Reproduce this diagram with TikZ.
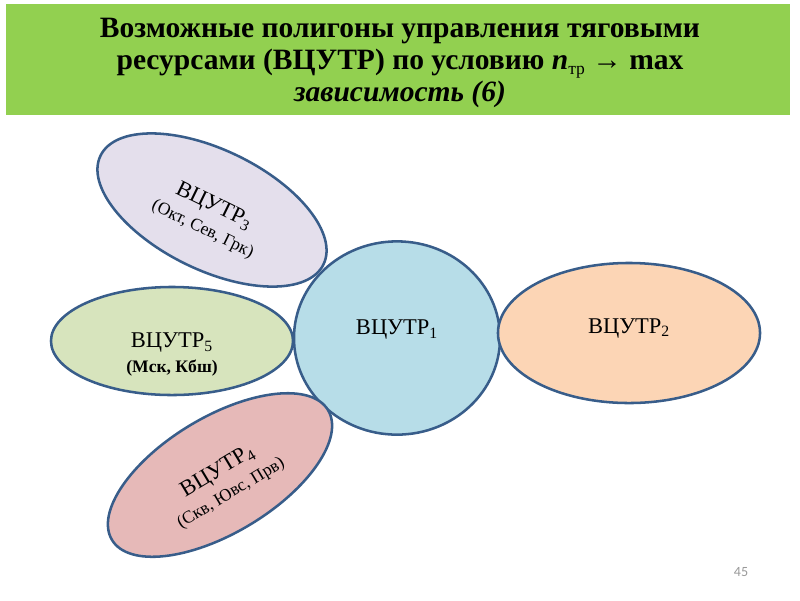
\documentclass[tikz,border=0pt]{standalone}
\usepackage{fontspec}
\setmainfont{Liberation Serif}
\newfontfamily\pagenumfont{Carlito}
\usetikzlibrary{shapes.geometric}

\definecolor{bannergreen}{HTML}{92D050}
\definecolor{edgeblue}{HTML}{385D8A}
\definecolor{fillone}{HTML}{B7DDE8}
\definecolor{filltwo}{HTML}{FCD5B5}
\definecolor{fillthree}{HTML}{E4DFEC}
\definecolor{fillfour}{HTML}{E6B9B8}
\definecolor{fillfive}{HTML}{D7E4BD}

\newcommand{\notesize}{\fontsize{12.5}{14}\selectfont}

\begin{document}
\begin{tikzpicture}[x=0.025cm, y=-0.025cm,
    region/.style={ellipse, draw=edgeblue, line width=1.8pt, inner sep=0pt, align=center,
      font=\fontsize{16}{18.5}\selectfont}]
        \useasboundingbox (0,0) rectangle (800,600);

        % Draw title
        \fill[bannergreen] (6,4) rectangle (790,115);
        \node[align=center, inner sep=0pt, font=\fontsize{21}{23}\selectfont\bfseries] (title) at (400,63)
          {Возможные полигоны управления тяговыми\\
           ресурсами (ВЦУТР) по условию {\itshape n}\raisebox{-0.35ex}{\fontsize{12.5}{12}\selectfont\mdseries тр} → max\\
           {\itshape зависимость (6)}};

        % Draw regions
        \node[region, fill=fillone, minimum width=5.15cm, minimum height=4.83cm] (r1) at (397,338)
          {\raisebox{0.09cm}[0pt][0pt]{ВЦУТР\textsubscript{1}}};
        \node[region, fill=fillthree, minimum width=6.2cm, minimum height=3cm, rotate=-26] (r3) at (212,210)
          {\raisebox{-0.36cm}[0pt][0pt]{\begin{tabular}{@{}c@{}}ВЦУТР\textsubscript{3}\\[-1pt] {\notesize (Окт, Сев, Грк)}\end{tabular}}};
        \node[region, fill=fillfive, minimum width=6.05cm, minimum height=2.7cm] (r5) at (172,341)
          {\raisebox{-0.5cm}[0pt][0pt]{\begin{tabular}{@{}c@{}}ВЦУТР\textsubscript{5}\\[-1pt] {\notesize\bfseries (Мск, Кбш)}\end{tabular}}};
        \node[region, fill=filltwo, minimum width=6.55cm, minimum height=3.5cm] (r2) at (629,333)
          {\raisebox{0cm}[0pt][0pt]{ВЦУТР\textsubscript{2}}};
        \node[region, fill=fillfour, minimum width=6.3cm, minimum height=2.9cm, rotate=31] (r4) at (220,475)
          {\raisebox{-0.36cm}[0pt][0pt]{\begin{tabular}{@{}c@{}}ВЦУТР\textsubscript{4}\\[-1pt] {\notesize (Скв, Ювс, Прв)}\end{tabular}}};

        % Draw page number
        \node[text=gray!80, font=\pagenumfont\fontsize{10}{12}\selectfont] (page) at (741,572) {45};
    \end{tikzpicture}
\end{document}
